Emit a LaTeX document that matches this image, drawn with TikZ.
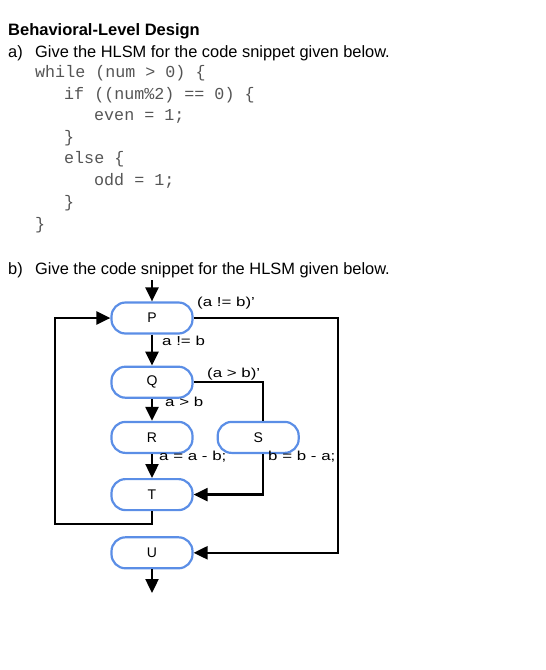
\documentclass[tikz,border=0pt]{standalone}
\usepackage{graphicx}
\usepackage{fontspec}
\setmainfont{Liberation Sans}
\setmonofont{Liberation Mono}
\usetikzlibrary{positioning, arrows.meta}
\definecolor{stateblue}{HTML}{5B8EE6}
\definecolor{codegray}{HTML}{555555}
\newcommand{\widelbl}[1]{\scalebox{1.3}[1]{#1}}

\begin{document}
\begin{tikzpicture}[x=1pt, y=-1pt]
\tikzstyle{state}=[rectangle, rounded corners=14pt, draw=stateblue, line width=2.2pt, minimum width=81pt, minimum height=31pt, inner sep=0pt, font=\fontsize{14}{14}\selectfont]
\tikzstyle{connect}=[-{Triangle[length=14pt, width=13pt]}, line width=2.4pt]
\tikzstyle{line}=[line width=2.4pt]
\tikzstyle{txt}=[anchor=base west, inner sep=0pt, font=\fontsize{16.4}{16.4}\selectfont]
\tikzstyle{code}=[anchor=base west, inner sep=0pt, text=codegray, font=\ttfamily\fontsize{16.7}{16.7}\selectfont]
\tikzstyle{lbl}=[anchor=base west, inner sep=0pt, font=\fontsize{13}{13}\selectfont]
    \useasboundingbox (0,0) rectangle (546,670);
    % part a
    \node[txt, font=\bfseries\fontsize{16.5}{16.5}\selectfont] (title) at (8,35) {Behavioral-Level Design};
    \node[txt] (qa) at (8,57) {a)};
    \node[txt] (qatext) at (35,57) {Give the HLSM for the code snippet given below.};
    \node[code] (c1) at (35,77) {while (num > 0) \{};
    \node[code] (c2) at (64,99) {if ((num\%2) == 0) \{};
    \node[code] (c3) at (94,120) {even = 1;};
    \node[code] (c4) at (64,142) {\}};
    \node[code] (c5) at (64,163) {else \{};
    \node[code] (c6) at (94,185) {odd = 1;};
    \node[code] (c7) at (64,207) {\}};
    \node[code] (c8) at (35,229) {\}};
    % part b
    \node[txt] (qb) at (8,274) {b)};
    \node[txt] (qbtext) at (35,274) {Give the code snippet for the HLSM given below.};
    % states
    \node[state] (P) at (152,318) {P};
    \node[state] (Q) [below=31pt of P] {Q};
    \node[state] (R) [below=22pt of Q] {R};
    \node[state] (S) [right=23pt of R] {S};
    \node[state] (T) [below=24pt of R] {T};
    \node[state] (U) [below=25pt of T] {U};
    \coordinate (in) at (152,280);
    \coordinate (out) at (152,593);
    \coordinate (loopL) at (55,524);
    \coordinate (loopR) at (338,552);
    \coordinate (qs) at (263,382);
    % transitions
    \draw[connect] (in) -- (P);
    \draw[connect] (P) -- (Q);
    \draw[connect] (Q) -- (R);
    \draw[connect] (R) -- (T);
    \draw[connect] (U) -- (out);
    \draw[line] (Q.east) -| (qs |- S.north);
    \draw[connect] (qs |- S.south) |- (T.east);
    \draw[connect] (T.south) |- (loopL) |- (P.west);
    \draw[connect] (P.east) -| (loopR |- U.east) -- (U.east);
    % labels
    \node[lbl] (lPn) at (197,306) {\widelbl{(a != b)'}};
    \node[lbl] (lPy) at (162,345) {\widelbl{a != b}};
    \node[lbl] (lQn) at (207,377) {\widelbl{(a > b)'}};
    \node[lbl] (lQy) at (165,406) {\widelbl{a > b}};
    \node[lbl] (lR) at (159,460) {\widelbl{a = a - b;}};
    \node[lbl] (lS) at (268,460) {\widelbl{b = b - a;}};
\end{tikzpicture}
\end{document}
